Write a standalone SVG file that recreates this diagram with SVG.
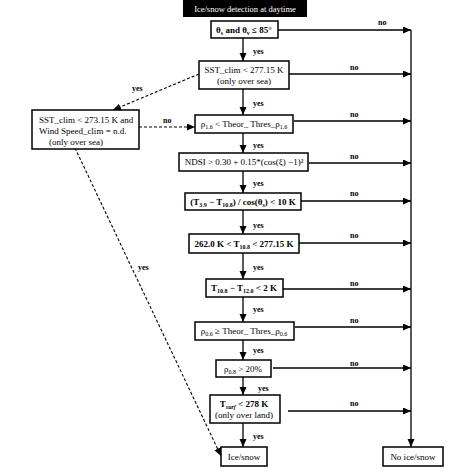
<svg xmlns="http://www.w3.org/2000/svg" width="474" height="474" viewBox="0 0 474 474">
<style>
.box{fill:#fff;stroke:#000;stroke-width:1.5}
.t{font-family:"Liberation Serif","Times New Roman",serif;font-size:9px;fill:#000}
.b{font-weight:bold}
.s{font-size:6px}
.lbl{font-family:"Liberation Serif","Times New Roman",serif;font-size:8px;font-weight:bold;fill:#000}
.ln{stroke:#000;stroke-width:1.3;fill:none;marker-end:url(#ah)}
.dl{stroke:#000;stroke-width:1.1;fill:none;stroke-dasharray:3,2;marker-end:url(#ah)}
</style>
<defs>
<marker id="ah" markerUnits="userSpaceOnUse" markerWidth="9" markerHeight="8" refX="8" refY="3.5" orient="auto">
<path d="M0,0 L8,3.5 L0,7 z" fill="#000"/>
</marker>
</defs>
<rect width="474" height="474" fill="#fff"/>

<g id="title">
<rect x="183" y="0" width="124" height="17" fill="#000"/>
<text x="245" y="12" text-anchor="middle" class="t" style="fill:#fff;font-size:8.5px">Ice/snow detection at daytime</text>
</g>

<g id="connectors">
<!-- main yes column -->
<line class="ln" x1="243" y1="38" x2="243" y2="61"/>
<line class="ln" x1="243" y1="89" x2="243" y2="115"/>
<line class="ln" x1="243" y1="133" x2="243" y2="153"/>
<line class="ln" x1="243" y1="171" x2="243" y2="193"/>
<line class="ln" x1="243" y1="210" x2="243" y2="234"/>
<line class="ln" x1="243" y1="253" x2="243" y2="279"/>
<line class="ln" x1="243" y1="297" x2="243" y2="322"/>
<line class="ln" x1="243" y1="340" x2="243" y2="360"/>
<line class="ln" x1="243" y1="377" x2="243" y2="395"/>
<line class="ln" x1="243" y1="423" x2="243" y2="447"/>
<!-- no arrows -->
<line class="ln" x1="278" y1="30" x2="411" y2="30"/>
<line class="ln" x1="289" y1="74" x2="411" y2="74"/>
<line class="ln" x1="294" y1="121" x2="411" y2="121"/>
<line class="ln" x1="309" y1="163" x2="411" y2="163"/>
<line class="ln" x1="301" y1="201" x2="411" y2="201"/>
<line class="ln" x1="299" y1="243" x2="411" y2="243"/>
<line class="ln" x1="283" y1="289" x2="411" y2="289"/>
<line class="ln" x1="295" y1="327" x2="411" y2="327"/>
<line class="ln" x1="273" y1="368" x2="411" y2="368"/>
<line class="ln" x1="288" y1="411" x2="411" y2="411"/>
<!-- right column -->
<line class="ln" x1="411" y1="30" x2="411" y2="447"/>
<!-- dashed -->
<line class="dl" x1="199" y1="74" x2="113" y2="110"/>
<line class="dl" x1="139" y1="127" x2="195" y2="127"/>
<line class="dl" x1="75" y1="148" x2="221" y2="456"/>
<!-- labels -->
<text class="lbl" x="253" y="54">yes</text>
<text class="lbl" x="253" y="106">yes</text>
<text class="lbl" x="253" y="148">yes</text>
<text class="lbl" x="253" y="186">yes</text>
<text class="lbl" x="253" y="228">yes</text>
<text class="lbl" x="253" y="270">yes</text>
<text class="lbl" x="253" y="312">yes</text>
<text class="lbl" x="253" y="353">yes</text>
<text class="lbl" x="258" y="391">yes</text>
<text class="lbl" x="253" y="439">yes</text>
<text class="lbl" x="132" y="91">yes</text>
<text class="lbl" x="138" y="270">yes</text>
<text class="lbl" x="163" y="123">no</text>
<text class="lbl" x="378" y="25">no</text>
<text class="lbl" x="350" y="70">no</text>
<text class="lbl" x="350" y="117">no</text>
<text class="lbl" x="350" y="159">no</text>
<text class="lbl" x="350" y="196">no</text>
<text class="lbl" x="350" y="238">no</text>
<text class="lbl" x="350" y="286">no</text>
<text class="lbl" x="350" y="323">no</text>
<text class="lbl" x="350" y="366">no</text>
<text class="lbl" x="350" y="406">no</text>
</g>

<g id="n1">
<rect class="box" x="211" y="21" width="67" height="17"/>
<text x="244" y="33" text-anchor="middle" class="t b">θ<tspan class="s" dy="2">s</tspan><tspan dy="-2"> and θ</tspan><tspan class="s" dy="2">v</tspan><tspan dy="-2">  ≤ 85°</tspan></text>
</g>

<g id="n2">
<rect class="box" x="199" y="61" width="90" height="28"/>
<text x="244" y="73" text-anchor="middle" class="t">SST_clim &lt; 277.15 K</text>
<text x="244" y="84" text-anchor="middle" class="t">(only over sea)</text>
</g>

<g id="n3">
<rect class="box" x="32" y="110" width="107" height="39"/>
<text x="39" y="123" class="t">SST_clim &lt; 273.15 K and</text>
<text x="39" y="134" class="t">Wind Speed_clim = n.d.</text>
<text x="49" y="145" class="t">(only over sea)</text>
</g>

<g id="n4">
<rect class="box" x="195" y="115" width="98" height="18"/>
<text x="244" y="127" text-anchor="middle" class="t">ρ<tspan class="s" dy="2">1.6</tspan><tspan dy="-2"> &lt; Theor_ Thres_ρ</tspan><tspan class="s" dy="2">1.6</tspan></text>
</g>

<g id="n5">
<rect class="box" x="179" y="153" width="129" height="18"/>
<text x="244" y="165" text-anchor="middle" class="t">NDSI &gt;  0.30 + 0.15*(cos(ξ) −1)²</text>
</g>

<g id="n6">
<rect class="box" x="185" y="193" width="116" height="17"/>
<text x="243" y="205" text-anchor="middle" class="t b">(T<tspan class="s" dy="2">3.9</tspan><tspan dy="-2"> − T</tspan><tspan class="s" dy="2">10.8</tspan><tspan dy="-2">) / cos(θ</tspan><tspan class="s" dy="2">s</tspan><tspan dy="-2">) &lt; 10 K</tspan></text>
</g>

<g id="n7">
<rect class="box" x="189" y="234" width="110" height="19"/>
<text x="244" y="247" text-anchor="middle" class="t b">262.0 K &lt; T<tspan class="s" dy="2">10.8</tspan><tspan dy="-2"> &lt; 277.15 K</tspan></text>
</g>

<g id="n8">
<rect class="box" x="206" y="279" width="77" height="18"/>
<text x="244" y="291" text-anchor="middle" class="t b">T<tspan class="s" dy="2">10.8</tspan><tspan dy="-2"> − T</tspan><tspan class="s" dy="2">12.0</tspan><tspan dy="-2"> &lt; 2 K</tspan></text>
</g>

<g id="n9">
<rect class="box" x="195" y="322" width="99" height="18"/>
<text x="244" y="334" text-anchor="middle" class="t">ρ<tspan class="s" dy="2">0.6</tspan><tspan dy="-2"> ≥ Theor_ Thres_ρ</tspan><tspan class="s" dy="2">0.6</tspan></text>
</g>

<g id="n10">
<rect class="box" x="216" y="360" width="55" height="17"/>
<text x="243" y="372" text-anchor="middle" class="t">ρ<tspan class="s" dy="2">0.8</tspan><tspan dy="-2"> &gt; 20%</tspan></text>
</g>

<g id="n11">
<rect class="box" x="210" y="395" width="70" height="28"/>
<text x="244" y="407" text-anchor="middle" class="t b">T<tspan class="s" dy="2" style="font-style:italic">surf</tspan><tspan dy="-2">  &lt; 278 K</tspan></text>
<text x="244" y="418" text-anchor="middle" class="t">(only over land)</text>
</g>

<g id="n12">
<rect class="box" x="221" y="447" width="46" height="19"/>
<text x="244" y="460" text-anchor="middle" class="t">Ice/snow</text>
</g>

<g id="n13">
<rect class="box" x="383" y="447" width="60" height="19"/>
<text x="413" y="460" text-anchor="middle" class="t">No ice/snow</text>
</g>
</svg>
